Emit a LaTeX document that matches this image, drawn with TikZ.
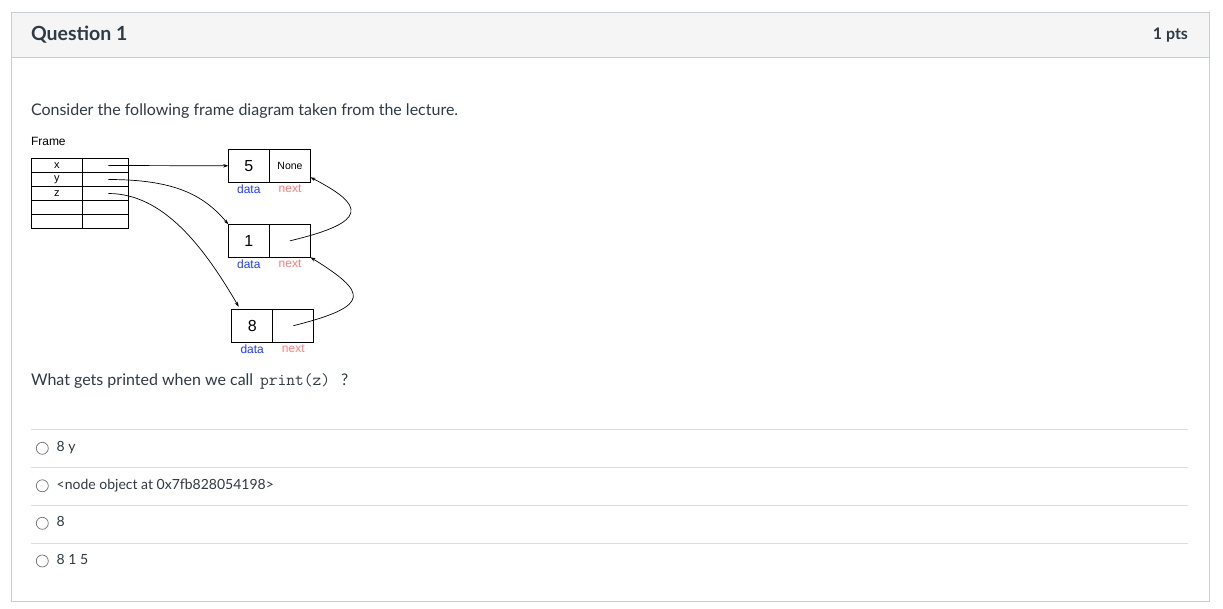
\documentclass[tikz,border=0pt]{standalone}
\usepackage{fontspec}
\setmainfont{Lato}
\newfontfamily\diagfont{Liberation Sans}
\usetikzlibrary{arrows.meta}
\definecolor{canvastext}{HTML}{2D3B45}
\definecolor{headfill}{HTML}{F5F5F5}
\definecolor{boxline}{HTML}{C7CDD1}
\definecolor{sepline}{HTML}{DDDDDD}
\definecolor{radioline}{HTML}{707070}
\definecolor{datablue}{HTML}{1F3DFF}
\definecolor{nextred}{HTML}{FF7B7B}
\begin{document}
\begin{tikzpicture}[x=1pt,y=-1pt,inner sep=0pt,outer sep=0pt,
cell/.style={draw,rectangle,minimum height=14pt,line width=0.8pt,font=\diagfont\fontsize{11}{11}\selectfont},
listcell/.style={draw,rectangle,minimum width=41pt,minimum height=33pt,line width=0.8pt,font=\diagfont\fontsize{16}{16}\selectfont},
datalbl/.style={below=2.5pt,text=datablue,font=\diagfont\fontsize{12}{12}\selectfont},
nextlbl/.style={below=2.5pt,text=nextred,font=\diagfont\fontsize{12}{12}\selectfont},
ptr/.style={-{Stealth[length=5pt,width=3.5pt]},line width=0.7pt},
pagetext/.style={anchor=base west,text=canvastext,font=\fontsize{16}{16}\selectfont},
opttext/.style={anchor=base west,text=canvastext,font=\fontsize{14}{14}\selectfont},
radio/.style={draw=radioline,circle,minimum size=12pt,line width=0.7pt}]
\useasboundingbox (0,0) rectangle (1223,609);
\fill[white] (0,0) rectangle (1223,609);
\draw[boxline,fill=headfill] (11.5,12.5) rectangle (1209.5,57.5);
\draw[boxline] (11.5,57.5) rectangle (1209.5,601.5);
\draw (31,40.5) node[pagetext,font=\bfseries\fontsize{19.5}{19.5}\selectfont] (title) {Question 1};
\draw (1188,40) node[anchor=base east,text=canvastext,font=\bfseries\fontsize{16}{16}\selectfont] (pts) {1 pts};
\draw (31,115.5) node[pagetext] (intro) {Consider the following frame diagram taken from the lecture.};
\draw (31,145.5) node[anchor=base west,font=\diagfont\fontsize{12}{12}\selectfont] (framelbl) {Frame};
\foreach \v [count=\i] in {x,y,z,{},{}} {
  \draw (56.8,151.5+14*\i) node[cell,minimum width=51pt] (fa\i) {\v};
  \draw (105.3,151.5+14*\i) node[cell,minimum width=46pt] (fb\i) {};
}
\draw (248.8,165.8) node[listcell] (d5) {5};
\draw (290,165.8) node[listcell,font=\diagfont\fontsize{10.5}{10.5}\selectfont] (n5) {None};
\draw (248.8,240.8) node[listcell] (d1) {1};
\draw (290,240.8) node[listcell] (n1) {};
\draw (252.2,325.7) node[listcell] (d8) {8};
\draw (293.3,325.7) node[listcell] (n8) {};
\draw (d5.south) node[datalbl] (ld5) {data};
\draw (n5.south) node[nextlbl] (ln5) {next};
\draw (d1.south) node[datalbl] (ld1) {data};
\draw (n1.south) node[nextlbl] (ln1) {next};
\draw (d8.south) node[datalbl] (ld8) {data};
\draw (n8.south) node[nextlbl] (ln8) {next};
\draw[ptr] ([xshift=3pt]fb1.center) -- (d5.west);
\draw[ptr] ([xshift=3pt]fb2.center) .. controls +(65,0) and +(-25,-30) .. (d1.north west);
\draw[ptr] ([xshift=3pt]fb3.center) .. controls +(55,0) and +(-35,-60) .. ([xshift=7pt,yshift=2.5pt]d8.north west);
\draw[ptr] (n1.center) .. controls +(80,-19) and +(54,28) .. ([yshift=5pt]n5.south east);
\draw[ptr] (n8.center) .. controls +(80,-20) and +(56,35) .. (n1.south east);
\draw (31,385) node[pagetext] (ask) {What gets printed when we call\hspace{7pt}{\ttfamily\fontsize{17}{17}\selectfont print(z)}\hspace{11pt}?};
\foreach \yy in {429.5,467.5,505.5,543.5}
  \draw[sepline] (31,\yy) -- (1188,\yy);
\foreach \t/\yy [count=\i] in {8 y/448.3,{<node object at 0x7fb828054198>}/485.8,8/523.3,8 1 5/561} {
  \draw (42.3,\yy) node[radio] (r\i) {};
  \draw (56.7,\yy+3.5) node[opttext] (opt\i) {\t};
}
\end{tikzpicture}
\end{document}
